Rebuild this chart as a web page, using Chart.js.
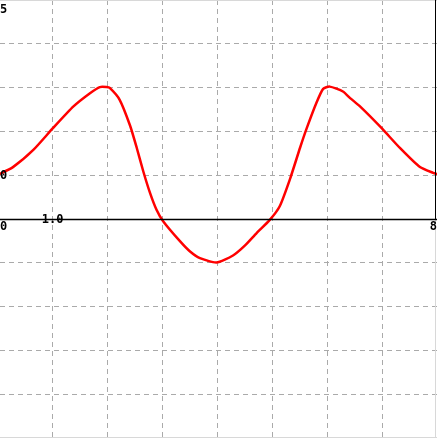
<!DOCTYPE html>
<html>
<head>
<meta charset="utf-8">
<script src="https://cdn.jsdelivr.net/npm/chart.js@4/dist/chart.umd.min.js"></script>
<style>
  html, body { margin: 0; padding: 0; background: #fff; overflow: hidden; }
  #plot { display: block; }
</style>
</head>
<body>
<canvas id="plot" width="437" height="438"></canvas>
<script>
// curve samples
var xs = [0.0, 0.28, 0.65, 1.01, 1.38, 1.68, 1.86, 1.98, 2.04, 2.22, 2.41, 2.53, 2.65, 2.77, 2.89, 3.01,
          3.32, 3.50, 3.68, 3.98, 4.28, 4.50, 4.71, 4.95, 5.13, 5.32, 5.50, 5.62, 5.80, 5.92, 6.04,
          6.28, 6.41, 6.59, 6.98, 7.32, 7.68, 7.92, 8.0];
var ys = [1.0, 1.18, 1.57, 2.07, 2.56, 2.86, 3.0, 3.0, 2.98, 2.71, 2.12, 1.62, 1.08, 0.60, 0.21, -0.05,
          -0.51, -0.74, -0.89, -0.99, -0.83, -0.6, -0.32, -0.02, 0.29, 0.92, 1.62, 2.06, 2.65, 2.96, 3.01,
          2.90, 2.75, 2.56, 2.07, 1.61, 1.18, 1.05, 1.02];

var xRange = [0.044, 7.99];
var yRange = [-4.98, 4.98];
var xGrid = [1, 2, 3, 4, 5, 6, 7, 8];
var yGrid = [-4, -3, -2, -1, 1, 2, 3, 4];

// visible labels: [x value, y value, text, align, baseline]
var labels = [
  [0.044, 4.90, "5", "left", "top"],
  [0.044, 1.0, "0", "left", "middle"],
  [1.0, 0.0, "1.0", "center", "middle"],
  [0.044, -0.15, "0", "left", "middle"],
  [7.99, -0.15, "8", "right", "middle"]
];

var overlay = {
  id: "overlay",
  afterDatasetsDraw: function(chart) {
    var c = chart.ctx, x = chart.scales.x, y = chart.scales.y;
    var W = chart.width, H = chart.height;
    var y0 = Math.round(y.getPixelForValue(0)) + 0.5;
    c.save();
    // faint frame
    c.strokeStyle = "#d8d8d8";
    c.lineWidth = 1;
    c.beginPath();
    c.moveTo(0, 0.5); c.lineTo(W, 0.5);
    c.moveTo(0, H - 0.5); c.lineTo(W, H - 0.5);
    c.moveTo(W - 1.5, y0); c.lineTo(W - 1.5, H);
    c.stroke();
    c.strokeStyle = "#000";
    c.beginPath();
    c.moveTo(W - 1.5, 0); c.lineTo(W - 1.5, y0);
    c.stroke();
    // x axis
    c.lineWidth = 1.5;
    c.beginPath();
    c.moveTo(0, y0); c.lineTo(W, y0);
    c.stroke();
    // labels
    c.font = "bold 12px 'DejaVu Sans Mono', monospace";
    c.fillStyle = "#000";
    labels.forEach(function(l) {
      var px = x.getPixelForValue(l[0]), py = y.getPixelForValue(l[1]);
      if (l[3] === "left") px = 0;
      if (l[3] === "right") px = W;
      c.textAlign = l[3];
      c.textBaseline = l[4];
      c.fillText(l[2], px, py + (l[4] === "middle" ? 1 : 0));
    });
    c.restore();
  }
};

new Chart(document.getElementById("plot"), {
  type: "line",
  data: {
    datasets: [{
      data: xs.map(function(v, i) { return {x: v, y: ys[i]}; }),
      borderColor: "#ff0000",
      borderWidth: 2.5,
      pointRadius: 0,
      tension: 0.2,
      fill: false
    }]
  },
  options: {
    responsive: false,
    animation: false,
    devicePixelRatio: 1,
    layout: { padding: 0 },
    plugins: { legend: { display: false }, tooltip: { enabled: false } },
    scales: {
      x: {
        type: "linear",
        min: xRange[0], max: xRange[1],
        afterBuildTicks: function(s) { s.ticks = xGrid.map(function(v) { return {value: v}; }); },
        ticks: { display: false },
        grid: { color: "#aaaaaa", lineWidth: 1, drawTicks: false },
        border: { display: false, dash: [5, 4] }
      },
      y: {
        type: "linear",
        min: yRange[0], max: yRange[1],
        afterBuildTicks: function(s) { s.ticks = yGrid.map(function(v) { return {value: v}; }); },
        ticks: { display: false },
        grid: { color: "#aaaaaa", lineWidth: 1, drawTicks: false },
        border: { display: false, dash: [5, 4] }
      }
    }
  },
  plugins: [overlay]
});
</script>
</body>
</html>
